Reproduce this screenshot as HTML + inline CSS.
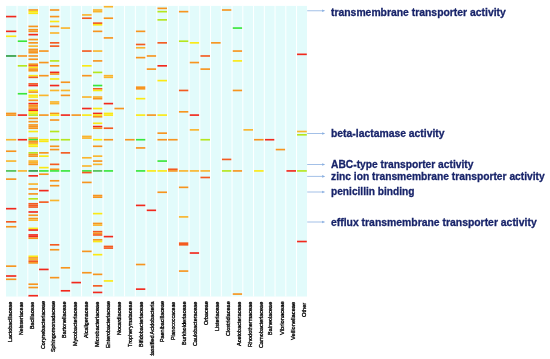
<!DOCTYPE html>
<html><head><meta charset="utf-8"><style>
html,body{margin:0;padding:0;background:#fff;}
body{width:550px;height:359px;position:relative;overflow:hidden;}
svg{position:absolute;left:0;top:0;}
#hm{filter:blur(0.3px);}
.lab{position:absolute;font-family:"Liberation Sans",sans-serif;font-size:5.6px;color:#000;-webkit-text-stroke:0.3px #000;white-space:nowrap;transform-origin:0 0;line-height:1;}
.rt{position:absolute;font-family:"Liberation Sans",sans-serif;font-weight:bold;font-size:12px;color:#18246a;-webkit-text-stroke:0.3px #18246a;white-space:nowrap;transform-origin:0 0;line-height:1;}
</style></head><body>

<svg id="hm" width="550" height="359" viewBox="0 0 550 359">
<rect x="6.00" y="5.900" width="301.00" height="290.634" fill="#e2fbfb"/>
<rect x="6.00" y="15.752" width="10.55" height="1.642" fill="#f2281c"/>
<rect x="6.00" y="30.530" width="10.55" height="1.642" fill="#f2281c"/>
<rect x="6.00" y="35.456" width="10.55" height="1.642" fill="#fbe914"/>
<rect x="6.00" y="55.160" width="10.55" height="1.642" fill="#2e9b3e"/>
<rect x="6.00" y="112.630" width="10.55" height="1.642" fill="#f7941e"/>
<rect x="6.00" y="114.272" width="10.55" height="1.642" fill="#f7941e"/>
<rect x="6.00" y="138.902" width="10.55" height="1.642" fill="#fab42c"/>
<rect x="6.00" y="150.396" width="10.55" height="1.642" fill="#f7941e"/>
<rect x="6.00" y="160.248" width="10.55" height="1.642" fill="#fab42c"/>
<rect x="6.00" y="170.100" width="10.55" height="1.642" fill="#4dbf4d"/>
<rect x="6.00" y="178.310" width="10.55" height="1.642" fill="#f7941e"/>
<rect x="6.00" y="207.866" width="10.55" height="1.642" fill="#f2281c"/>
<rect x="6.00" y="221.002" width="10.55" height="1.642" fill="#f45a20"/>
<rect x="6.00" y="225.928" width="10.55" height="1.642" fill="#f7941e"/>
<rect x="6.00" y="265.336" width="10.55" height="1.642" fill="#f7941e"/>
<rect x="6.00" y="275.188" width="10.55" height="1.642" fill="#f2281c"/>
<rect x="6.00" y="278.472" width="10.55" height="1.642" fill="#f7941e"/>
<rect x="17.45" y="40.382" width="9.85" height="1.642" fill="#39e639"/>
<rect x="17.45" y="55.160" width="9.85" height="1.642" fill="#f7941e"/>
<rect x="17.45" y="65.012" width="9.85" height="1.642" fill="#b5e61d"/>
<rect x="17.45" y="92.926" width="9.85" height="1.642" fill="#39e639"/>
<rect x="17.45" y="114.272" width="9.85" height="1.642" fill="#f2281c"/>
<rect x="17.45" y="138.902" width="9.85" height="1.642" fill="#f2281c"/>
<rect x="17.45" y="170.100" width="9.85" height="1.642" fill="#fab42c"/>
<rect x="28.20" y="9.184" width="9.85" height="1.642" fill="#f7941e"/>
<rect x="28.20" y="10.826" width="9.85" height="1.642" fill="#fbe914"/>
<rect x="28.20" y="12.468" width="9.85" height="1.642" fill="#fbe914"/>
<rect x="28.20" y="25.604" width="9.85" height="1.642" fill="#f7941e"/>
<rect x="28.20" y="28.888" width="9.85" height="1.642" fill="#f7941e"/>
<rect x="28.20" y="30.530" width="9.85" height="1.642" fill="#f7941e"/>
<rect x="28.20" y="33.814" width="9.85" height="1.642" fill="#f2281c"/>
<rect x="28.20" y="38.740" width="9.85" height="1.642" fill="#f7941e"/>
<rect x="28.20" y="42.024" width="9.85" height="1.642" fill="#f7941e"/>
<rect x="28.20" y="45.308" width="9.85" height="1.642" fill="#fab42c"/>
<rect x="28.20" y="48.592" width="9.85" height="1.642" fill="#f7941e"/>
<rect x="28.20" y="50.234" width="9.85" height="1.642" fill="#f7941e"/>
<rect x="28.20" y="51.876" width="9.85" height="1.642" fill="#f7941e"/>
<rect x="28.20" y="55.160" width="9.85" height="1.642" fill="#f7941e"/>
<rect x="28.20" y="58.444" width="9.85" height="1.642" fill="#f7941e"/>
<rect x="28.20" y="63.370" width="9.85" height="1.642" fill="#f7941e"/>
<rect x="28.20" y="65.012" width="9.85" height="1.642" fill="#f45a20"/>
<rect x="28.20" y="66.654" width="9.85" height="1.642" fill="#fbe914"/>
<rect x="28.20" y="68.296" width="9.85" height="1.642" fill="#f7941e"/>
<rect x="28.20" y="69.938" width="9.85" height="1.642" fill="#f7941e"/>
<rect x="28.20" y="74.864" width="9.85" height="1.642" fill="#fbe914"/>
<rect x="28.20" y="76.506" width="9.85" height="1.642" fill="#f45a20"/>
<rect x="28.20" y="83.074" width="9.85" height="1.642" fill="#f45a20"/>
<rect x="28.20" y="84.716" width="9.85" height="1.642" fill="#f2281c"/>
<rect x="28.20" y="89.642" width="9.85" height="1.642" fill="#fbe914"/>
<rect x="28.20" y="91.284" width="9.85" height="1.642" fill="#f7941e"/>
<rect x="28.20" y="94.568" width="9.85" height="1.642" fill="#fbe914"/>
<rect x="28.20" y="96.210" width="9.85" height="1.642" fill="#fbe914"/>
<rect x="28.20" y="99.494" width="9.85" height="1.642" fill="#f7941e"/>
<rect x="28.20" y="102.778" width="9.85" height="1.642" fill="#f2281c"/>
<rect x="28.20" y="104.420" width="9.85" height="1.642" fill="#f7941e"/>
<rect x="28.20" y="106.062" width="9.85" height="1.642" fill="#f7941e"/>
<rect x="28.20" y="107.704" width="9.85" height="1.642" fill="#f7941e"/>
<rect x="28.20" y="109.346" width="9.85" height="1.642" fill="#f2281c"/>
<rect x="28.20" y="110.988" width="9.85" height="1.642" fill="#fbe914"/>
<rect x="28.20" y="112.630" width="9.85" height="1.642" fill="#fbe914"/>
<rect x="28.20" y="114.272" width="9.85" height="1.642" fill="#b5e61d"/>
<rect x="28.20" y="117.556" width="9.85" height="1.642" fill="#f7941e"/>
<rect x="28.20" y="120.840" width="9.85" height="1.642" fill="#f7941e"/>
<rect x="28.20" y="124.124" width="9.85" height="1.642" fill="#f7941e"/>
<rect x="28.20" y="125.766" width="9.85" height="1.642" fill="#f7941e"/>
<rect x="28.20" y="127.408" width="9.85" height="1.642" fill="#f7941e"/>
<rect x="28.20" y="130.692" width="9.85" height="1.642" fill="#fbe914"/>
<rect x="28.20" y="137.260" width="9.85" height="1.642" fill="#fab42c"/>
<rect x="28.20" y="138.902" width="9.85" height="1.642" fill="#39e639"/>
<rect x="28.20" y="140.544" width="9.85" height="1.642" fill="#f7941e"/>
<rect x="28.20" y="142.186" width="9.85" height="1.642" fill="#f7941e"/>
<rect x="28.20" y="143.828" width="9.85" height="1.642" fill="#fbe914"/>
<rect x="28.20" y="145.470" width="9.85" height="1.642" fill="#fbe914"/>
<rect x="28.20" y="152.038" width="9.85" height="1.642" fill="#b5e61d"/>
<rect x="28.20" y="153.680" width="9.85" height="1.642" fill="#f7941e"/>
<rect x="28.20" y="155.322" width="9.85" height="1.642" fill="#f7941e"/>
<rect x="28.20" y="160.248" width="9.85" height="1.642" fill="#fab42c"/>
<rect x="28.20" y="161.890" width="9.85" height="1.642" fill="#fab42c"/>
<rect x="28.20" y="163.532" width="9.85" height="1.642" fill="#f7941e"/>
<rect x="28.20" y="170.100" width="9.85" height="1.642" fill="#2e9b3e"/>
<rect x="28.20" y="175.026" width="9.85" height="1.642" fill="#f2281c"/>
<rect x="28.20" y="183.236" width="9.85" height="1.642" fill="#fab42c"/>
<rect x="28.20" y="188.162" width="9.85" height="1.642" fill="#f7941e"/>
<rect x="28.20" y="193.088" width="9.85" height="1.642" fill="#f7941e"/>
<rect x="28.20" y="198.014" width="9.85" height="1.642" fill="#b5e61d"/>
<rect x="28.20" y="202.940" width="9.85" height="1.642" fill="#f45a20"/>
<rect x="28.20" y="204.582" width="9.85" height="1.642" fill="#f45a20"/>
<rect x="28.20" y="206.224" width="9.85" height="1.642" fill="#f45a20"/>
<rect x="28.20" y="211.150" width="9.85" height="1.642" fill="#f2281c"/>
<rect x="28.20" y="214.434" width="9.85" height="1.642" fill="#f7941e"/>
<rect x="28.20" y="217.718" width="9.85" height="1.642" fill="#f7941e"/>
<rect x="28.20" y="219.360" width="9.85" height="1.642" fill="#fab42c"/>
<rect x="28.20" y="227.570" width="9.85" height="1.642" fill="#fbe914"/>
<rect x="28.20" y="229.212" width="9.85" height="1.642" fill="#f2281c"/>
<rect x="28.20" y="234.138" width="9.85" height="1.642" fill="#f2281c"/>
<rect x="28.20" y="235.780" width="9.85" height="1.642" fill="#f2281c"/>
<rect x="28.20" y="237.422" width="9.85" height="1.642" fill="#f7941e"/>
<rect x="28.20" y="255.484" width="9.85" height="1.642" fill="#fbe914"/>
<rect x="28.20" y="257.126" width="9.85" height="1.642" fill="#f7941e"/>
<rect x="28.20" y="258.768" width="9.85" height="1.642" fill="#fab42c"/>
<rect x="28.20" y="260.410" width="9.85" height="1.642" fill="#f45a20"/>
<rect x="28.20" y="262.052" width="9.85" height="1.642" fill="#f7941e"/>
<rect x="28.20" y="283.398" width="9.85" height="1.642" fill="#f7941e"/>
<rect x="28.20" y="286.682" width="9.85" height="1.642" fill="#f7941e"/>
<rect x="28.20" y="294.892" width="9.85" height="1.642" fill="#f2281c"/>
<rect x="38.95" y="50.234" width="9.85" height="1.642" fill="#f7941e"/>
<rect x="38.95" y="61.728" width="9.85" height="1.642" fill="#f7941e"/>
<rect x="38.95" y="74.864" width="9.85" height="1.642" fill="#f7941e"/>
<rect x="38.95" y="94.568" width="9.85" height="1.642" fill="#fab42c"/>
<rect x="38.95" y="114.272" width="9.85" height="1.642" fill="#f7941e"/>
<rect x="38.95" y="138.902" width="9.85" height="1.642" fill="#fbe914"/>
<rect x="38.95" y="140.544" width="9.85" height="1.642" fill="#fbe914"/>
<rect x="38.95" y="152.038" width="9.85" height="1.642" fill="#f7941e"/>
<rect x="38.95" y="155.322" width="9.85" height="1.642" fill="#fbe914"/>
<rect x="38.95" y="166.816" width="9.85" height="1.642" fill="#fbe914"/>
<rect x="38.95" y="170.100" width="9.85" height="1.642" fill="#39e639"/>
<rect x="38.95" y="173.384" width="9.85" height="1.642" fill="#f7941e"/>
<rect x="38.95" y="189.804" width="9.85" height="1.642" fill="#f2281c"/>
<rect x="38.95" y="201.298" width="9.85" height="1.642" fill="#f45a20"/>
<rect x="38.95" y="268.620" width="9.85" height="1.642" fill="#f2281c"/>
<rect x="49.70" y="9.184" width="9.85" height="1.642" fill="#f7941e"/>
<rect x="49.70" y="15.752" width="9.85" height="1.642" fill="#f7941e"/>
<rect x="49.70" y="20.678" width="9.85" height="1.642" fill="#fbe914"/>
<rect x="49.70" y="25.604" width="9.85" height="1.642" fill="#f7941e"/>
<rect x="49.70" y="32.172" width="9.85" height="1.642" fill="#fab42c"/>
<rect x="49.70" y="42.024" width="9.85" height="1.642" fill="#f45a20"/>
<rect x="49.70" y="45.308" width="9.85" height="1.642" fill="#f45a20"/>
<rect x="49.70" y="60.086" width="9.85" height="1.642" fill="#b5e61d"/>
<rect x="49.70" y="65.012" width="9.85" height="1.642" fill="#f7941e"/>
<rect x="49.70" y="71.580" width="9.85" height="1.642" fill="#f2281c"/>
<rect x="49.70" y="73.222" width="9.85" height="1.642" fill="#f7941e"/>
<rect x="49.70" y="78.148" width="9.85" height="1.642" fill="#fbe914"/>
<rect x="49.70" y="84.716" width="9.85" height="1.642" fill="#f2281c"/>
<rect x="49.70" y="89.642" width="9.85" height="1.642" fill="#fab42c"/>
<rect x="49.70" y="101.136" width="9.85" height="1.642" fill="#fab42c"/>
<rect x="49.70" y="102.778" width="9.85" height="1.642" fill="#fab42c"/>
<rect x="49.70" y="112.630" width="9.85" height="1.642" fill="#f7941e"/>
<rect x="49.70" y="114.272" width="9.85" height="1.642" fill="#fbe914"/>
<rect x="49.70" y="119.198" width="9.85" height="1.642" fill="#f7941e"/>
<rect x="49.70" y="130.692" width="9.85" height="1.642" fill="#b5e61d"/>
<rect x="49.70" y="138.902" width="9.85" height="1.642" fill="#b5e61d"/>
<rect x="49.70" y="145.470" width="9.85" height="1.642" fill="#f7941e"/>
<rect x="49.70" y="148.754" width="9.85" height="1.642" fill="#f7941e"/>
<rect x="49.70" y="163.532" width="9.85" height="1.642" fill="#f45a20"/>
<rect x="49.70" y="168.458" width="9.85" height="1.642" fill="#f7941e"/>
<rect x="49.70" y="170.100" width="9.85" height="1.642" fill="#39e639"/>
<rect x="49.70" y="179.952" width="9.85" height="1.642" fill="#f7941e"/>
<rect x="49.70" y="184.878" width="9.85" height="1.642" fill="#f7941e"/>
<rect x="49.70" y="199.656" width="9.85" height="1.642" fill="#fab42c"/>
<rect x="49.70" y="243.990" width="9.85" height="1.642" fill="#f45a20"/>
<rect x="49.70" y="248.916" width="9.85" height="1.642" fill="#f7941e"/>
<rect x="49.70" y="276.830" width="9.85" height="1.642" fill="#f7941e"/>
<rect x="60.45" y="27.246" width="9.85" height="1.642" fill="#fab42c"/>
<rect x="60.45" y="81.432" width="9.85" height="1.642" fill="#f7941e"/>
<rect x="60.45" y="89.642" width="9.85" height="1.642" fill="#fab42c"/>
<rect x="60.45" y="94.568" width="9.85" height="1.642" fill="#f7941e"/>
<rect x="60.45" y="114.272" width="9.85" height="1.642" fill="#f2281c"/>
<rect x="60.45" y="138.902" width="9.85" height="1.642" fill="#b5e61d"/>
<rect x="60.45" y="152.038" width="9.85" height="1.642" fill="#f45a20"/>
<rect x="60.45" y="170.100" width="9.85" height="1.642" fill="#39e639"/>
<rect x="60.45" y="266.978" width="9.85" height="1.642" fill="#f7941e"/>
<rect x="60.45" y="289.966" width="9.85" height="1.642" fill="#f2281c"/>
<rect x="71.20" y="114.272" width="9.85" height="1.642" fill="#f7941e"/>
<rect x="71.20" y="281.756" width="9.85" height="1.642" fill="#f2281c"/>
<rect x="81.95" y="14.110" width="9.85" height="1.642" fill="#fab42c"/>
<rect x="81.95" y="17.394" width="9.85" height="1.642" fill="#f45a20"/>
<rect x="81.95" y="50.234" width="9.85" height="1.642" fill="#f45a20"/>
<rect x="81.95" y="65.012" width="9.85" height="1.642" fill="#fbe914"/>
<rect x="81.95" y="74.864" width="9.85" height="1.642" fill="#f7941e"/>
<rect x="81.95" y="96.210" width="9.85" height="1.642" fill="#fab42c"/>
<rect x="81.95" y="107.704" width="9.85" height="1.642" fill="#f2281c"/>
<rect x="81.95" y="114.272" width="9.85" height="1.642" fill="#fbe914"/>
<rect x="81.95" y="135.618" width="9.85" height="1.642" fill="#fab42c"/>
<rect x="81.95" y="137.260" width="9.85" height="1.642" fill="#fab42c"/>
<rect x="81.95" y="156.964" width="9.85" height="1.642" fill="#fab42c"/>
<rect x="81.95" y="165.174" width="9.85" height="1.642" fill="#fab42c"/>
<rect x="81.95" y="170.100" width="9.85" height="1.642" fill="#39e639"/>
<rect x="81.95" y="171.742" width="9.85" height="1.642" fill="#f45a20"/>
<rect x="81.95" y="181.594" width="9.85" height="1.642" fill="#f7941e"/>
<rect x="81.95" y="250.558" width="9.85" height="1.642" fill="#f7941e"/>
<rect x="81.95" y="271.904" width="9.85" height="1.642" fill="#f7941e"/>
<rect x="92.70" y="9.184" width="9.85" height="1.642" fill="#fab42c"/>
<rect x="92.70" y="10.826" width="9.85" height="1.642" fill="#fab42c"/>
<rect x="92.70" y="22.320" width="9.85" height="1.642" fill="#f45a20"/>
<rect x="92.70" y="23.962" width="9.85" height="1.642" fill="#fbe914"/>
<rect x="92.70" y="30.530" width="9.85" height="1.642" fill="#f7941e"/>
<rect x="92.70" y="50.234" width="9.85" height="1.642" fill="#fab42c"/>
<rect x="92.70" y="60.086" width="9.85" height="1.642" fill="#f7941e"/>
<rect x="92.70" y="71.580" width="9.85" height="1.642" fill="#b5e61d"/>
<rect x="92.70" y="84.716" width="9.85" height="1.642" fill="#39e639"/>
<rect x="92.70" y="88.000" width="9.85" height="1.642" fill="#f45a20"/>
<rect x="92.70" y="89.642" width="9.85" height="1.642" fill="#fbe914"/>
<rect x="92.70" y="96.210" width="9.85" height="1.642" fill="#fab42c"/>
<rect x="92.70" y="97.852" width="9.85" height="1.642" fill="#f7941e"/>
<rect x="92.70" y="107.704" width="9.85" height="1.642" fill="#fbe914"/>
<rect x="92.70" y="112.630" width="9.85" height="1.642" fill="#f2281c"/>
<rect x="92.70" y="114.272" width="9.85" height="1.642" fill="#fbe914"/>
<rect x="92.70" y="115.914" width="9.85" height="1.642" fill="#f7941e"/>
<rect x="92.70" y="122.482" width="9.85" height="1.642" fill="#fbe914"/>
<rect x="92.70" y="125.766" width="9.85" height="1.642" fill="#f2281c"/>
<rect x="92.70" y="127.408" width="9.85" height="1.642" fill="#f7941e"/>
<rect x="92.70" y="138.902" width="9.85" height="1.642" fill="#fbe914"/>
<rect x="92.70" y="145.470" width="9.85" height="1.642" fill="#f7941e"/>
<rect x="92.70" y="155.322" width="9.85" height="1.642" fill="#fab42c"/>
<rect x="92.70" y="160.248" width="9.85" height="1.642" fill="#f7941e"/>
<rect x="92.70" y="163.532" width="9.85" height="1.642" fill="#fab42c"/>
<rect x="92.70" y="170.100" width="9.85" height="1.642" fill="#4dbf4d"/>
<rect x="92.70" y="194.730" width="9.85" height="1.642" fill="#f7941e"/>
<rect x="92.70" y="196.372" width="9.85" height="1.642" fill="#f7941e"/>
<rect x="92.70" y="212.792" width="9.85" height="1.642" fill="#fbe914"/>
<rect x="92.70" y="222.644" width="9.85" height="1.642" fill="#f7941e"/>
<rect x="92.70" y="224.286" width="9.85" height="1.642" fill="#fab42c"/>
<rect x="92.70" y="230.854" width="9.85" height="1.642" fill="#f45a20"/>
<rect x="92.70" y="232.496" width="9.85" height="1.642" fill="#f7941e"/>
<rect x="92.70" y="234.138" width="9.85" height="1.642" fill="#f45a20"/>
<rect x="92.70" y="239.064" width="9.85" height="1.642" fill="#f7941e"/>
<rect x="92.70" y="240.706" width="9.85" height="1.642" fill="#fbe914"/>
<rect x="92.70" y="253.842" width="9.85" height="1.642" fill="#fbe914"/>
<rect x="92.70" y="273.546" width="9.85" height="1.642" fill="#f7941e"/>
<rect x="92.70" y="285.040" width="9.85" height="1.642" fill="#f45a20"/>
<rect x="92.70" y="291.608" width="9.85" height="1.642" fill="#f2281c"/>
<rect x="103.45" y="5.900" width="9.85" height="1.642" fill="#fab42c"/>
<rect x="103.45" y="17.394" width="9.85" height="1.642" fill="#f7941e"/>
<rect x="103.45" y="37.098" width="9.85" height="1.642" fill="#f7941e"/>
<rect x="103.45" y="74.864" width="9.85" height="1.642" fill="#fab42c"/>
<rect x="103.45" y="76.506" width="9.85" height="1.642" fill="#fab42c"/>
<rect x="103.45" y="102.778" width="9.85" height="1.642" fill="#f2281c"/>
<rect x="103.45" y="112.630" width="9.85" height="1.642" fill="#fbe914"/>
<rect x="103.45" y="114.272" width="9.85" height="1.642" fill="#fbe914"/>
<rect x="103.45" y="127.408" width="9.85" height="1.642" fill="#f45a20"/>
<rect x="103.45" y="138.902" width="9.85" height="1.642" fill="#f7941e"/>
<rect x="103.45" y="170.100" width="9.85" height="1.642" fill="#39e639"/>
<rect x="103.45" y="235.780" width="9.85" height="1.642" fill="#f2281c"/>
<rect x="103.45" y="245.632" width="9.85" height="1.642" fill="#f45a20"/>
<rect x="103.45" y="247.274" width="9.85" height="1.642" fill="#f45a20"/>
<rect x="103.45" y="280.114" width="9.85" height="1.642" fill="#fbe914"/>
<rect x="114.20" y="107.704" width="9.85" height="1.642" fill="#f7941e"/>
<rect x="124.95" y="138.902" width="9.85" height="1.642" fill="#f7941e"/>
<rect x="135.70" y="30.530" width="9.85" height="1.642" fill="#f7941e"/>
<rect x="135.70" y="43.666" width="9.85" height="1.642" fill="#f45a20"/>
<rect x="135.70" y="46.950" width="9.85" height="1.642" fill="#fab42c"/>
<rect x="135.70" y="56.802" width="9.85" height="1.642" fill="#f7941e"/>
<rect x="135.70" y="86.358" width="9.85" height="1.642" fill="#f7941e"/>
<rect x="135.70" y="88.000" width="9.85" height="1.642" fill="#f7941e"/>
<rect x="135.70" y="97.852" width="9.85" height="1.642" fill="#fbe914"/>
<rect x="135.70" y="114.272" width="9.85" height="1.642" fill="#fbe914"/>
<rect x="135.70" y="138.902" width="9.85" height="1.642" fill="#39e639"/>
<rect x="135.70" y="147.112" width="9.85" height="1.642" fill="#f7941e"/>
<rect x="135.70" y="170.100" width="9.85" height="1.642" fill="#39e639"/>
<rect x="135.70" y="204.582" width="9.85" height="1.642" fill="#f2281c"/>
<rect x="135.70" y="263.694" width="9.85" height="1.642" fill="#f7941e"/>
<rect x="135.70" y="288.324" width="9.85" height="1.642" fill="#f2281c"/>
<rect x="146.45" y="55.160" width="9.85" height="1.642" fill="#f7941e"/>
<rect x="146.45" y="68.296" width="9.85" height="1.642" fill="#f7941e"/>
<rect x="146.45" y="114.272" width="9.85" height="1.642" fill="#f7941e"/>
<rect x="146.45" y="170.100" width="9.85" height="1.642" fill="#fbe914"/>
<rect x="146.45" y="209.508" width="9.85" height="1.642" fill="#f2281c"/>
<rect x="157.20" y="7.542" width="9.85" height="1.642" fill="#f7941e"/>
<rect x="157.20" y="10.826" width="9.85" height="1.642" fill="#b5e61d"/>
<rect x="157.20" y="19.036" width="9.85" height="1.642" fill="#b5e61d"/>
<rect x="157.20" y="42.024" width="9.85" height="1.642" fill="#f45a20"/>
<rect x="157.20" y="65.012" width="9.85" height="1.642" fill="#f2281c"/>
<rect x="157.20" y="79.790" width="9.85" height="1.642" fill="#fbe914"/>
<rect x="157.20" y="114.272" width="9.85" height="1.642" fill="#fbe914"/>
<rect x="157.20" y="132.334" width="9.85" height="1.642" fill="#f7941e"/>
<rect x="157.20" y="138.902" width="9.85" height="1.642" fill="#f7941e"/>
<rect x="157.20" y="160.248" width="9.85" height="1.642" fill="#39e639"/>
<rect x="157.20" y="170.100" width="9.85" height="1.642" fill="#fbe914"/>
<rect x="157.20" y="191.446" width="9.85" height="1.642" fill="#f7941e"/>
<rect x="167.95" y="138.902" width="9.85" height="1.642" fill="#f7941e"/>
<rect x="167.95" y="168.458" width="9.85" height="1.642" fill="#f45a20"/>
<rect x="167.95" y="170.100" width="9.85" height="1.642" fill="#f7941e"/>
<rect x="178.70" y="10.826" width="9.85" height="1.642" fill="#f7941e"/>
<rect x="178.70" y="40.382" width="9.85" height="1.642" fill="#b5e61d"/>
<rect x="178.70" y="89.642" width="9.85" height="1.642" fill="#f45a20"/>
<rect x="178.70" y="110.988" width="9.85" height="1.642" fill="#f7941e"/>
<rect x="178.70" y="170.100" width="9.85" height="1.642" fill="#fab42c"/>
<rect x="178.70" y="186.520" width="9.85" height="1.642" fill="#f7941e"/>
<rect x="178.70" y="216.076" width="9.85" height="1.642" fill="#fab42c"/>
<rect x="178.70" y="242.348" width="9.85" height="1.642" fill="#f45a20"/>
<rect x="178.70" y="243.990" width="9.85" height="1.642" fill="#f45a20"/>
<rect x="178.70" y="270.262" width="9.85" height="1.642" fill="#f7941e"/>
<rect x="189.45" y="42.024" width="9.85" height="1.642" fill="#fbe914"/>
<rect x="189.45" y="61.728" width="9.85" height="1.642" fill="#f7941e"/>
<rect x="189.45" y="114.272" width="9.85" height="1.642" fill="#f2281c"/>
<rect x="189.45" y="129.050" width="9.85" height="1.642" fill="#fab42c"/>
<rect x="189.45" y="170.100" width="9.85" height="1.642" fill="#fab42c"/>
<rect x="189.45" y="252.200" width="9.85" height="1.642" fill="#f2281c"/>
<rect x="200.20" y="55.160" width="9.85" height="1.642" fill="#f45a20"/>
<rect x="200.20" y="68.296" width="9.85" height="1.642" fill="#f7941e"/>
<rect x="200.20" y="138.902" width="9.85" height="1.642" fill="#b5e61d"/>
<rect x="200.20" y="170.100" width="9.85" height="1.642" fill="#fab42c"/>
<rect x="200.20" y="176.668" width="9.85" height="1.642" fill="#f45a20"/>
<rect x="210.95" y="42.024" width="9.85" height="1.642" fill="#f7941e"/>
<rect x="221.70" y="9.184" width="9.85" height="1.642" fill="#f7941e"/>
<rect x="221.70" y="158.606" width="9.85" height="1.642" fill="#f45a20"/>
<rect x="221.70" y="170.100" width="9.85" height="1.642" fill="#b5e61d"/>
<rect x="232.45" y="27.246" width="9.85" height="1.642" fill="#39e639"/>
<rect x="232.45" y="50.234" width="9.85" height="1.642" fill="#f7941e"/>
<rect x="232.45" y="60.086" width="9.85" height="1.642" fill="#fbe914"/>
<rect x="232.45" y="89.642" width="9.85" height="1.642" fill="#f7941e"/>
<rect x="232.45" y="170.100" width="9.85" height="1.642" fill="#f7941e"/>
<rect x="232.45" y="293.250" width="9.85" height="1.642" fill="#f7941e"/>
<rect x="243.20" y="129.050" width="9.85" height="1.642" fill="#fab42c"/>
<rect x="253.95" y="138.902" width="9.85" height="1.642" fill="#f7941e"/>
<rect x="253.95" y="170.100" width="9.85" height="1.642" fill="#fbe914"/>
<rect x="264.70" y="138.902" width="9.85" height="1.642" fill="#f2281c"/>
<rect x="275.45" y="148.754" width="9.85" height="1.642" fill="#f7941e"/>
<rect x="286.20" y="170.100" width="9.85" height="1.642" fill="#f2281c"/>
<rect x="296.95" y="53.518" width="9.85" height="1.642" fill="#f2281c"/>
<rect x="296.95" y="130.692" width="9.85" height="1.642" fill="#fab42c"/>
<rect x="296.95" y="133.976" width="9.85" height="1.642" fill="#b5e61d"/>
<rect x="296.95" y="170.100" width="9.85" height="1.642" fill="#b5e61d"/>
<rect x="296.95" y="240.706" width="9.85" height="1.642" fill="#f2281c"/>
<rect x="16.55" y="5.900" width="1.00" height="290.634" fill="#ffffff"/>
<rect x="27.30" y="5.900" width="1.00" height="290.634" fill="#ffffff"/>
<rect x="38.05" y="5.900" width="1.00" height="290.634" fill="#ffffff"/>
<rect x="48.80" y="5.900" width="1.00" height="290.634" fill="#ffffff"/>
<rect x="59.55" y="5.900" width="1.00" height="290.634" fill="#ffffff"/>
<rect x="70.30" y="5.900" width="1.00" height="290.634" fill="#ffffff"/>
<rect x="81.05" y="5.900" width="1.00" height="290.634" fill="#ffffff"/>
<rect x="91.80" y="5.900" width="1.00" height="290.634" fill="#ffffff"/>
<rect x="102.55" y="5.900" width="1.00" height="290.634" fill="#ffffff"/>
<rect x="113.30" y="5.900" width="1.00" height="290.634" fill="#ffffff"/>
<rect x="124.05" y="5.900" width="1.00" height="290.634" fill="#ffffff"/>
<rect x="134.80" y="5.900" width="1.00" height="290.634" fill="#ffffff"/>
<rect x="145.55" y="5.900" width="1.00" height="290.634" fill="#ffffff"/>
<rect x="156.30" y="5.900" width="1.00" height="290.634" fill="#ffffff"/>
<rect x="167.05" y="5.900" width="1.00" height="290.634" fill="#ffffff"/>
<rect x="177.80" y="5.900" width="1.00" height="290.634" fill="#ffffff"/>
<rect x="188.55" y="5.900" width="1.00" height="290.634" fill="#ffffff"/>
<rect x="199.30" y="5.900" width="1.00" height="290.634" fill="#ffffff"/>
<rect x="210.05" y="5.900" width="1.00" height="290.634" fill="#ffffff"/>
<rect x="220.80" y="5.900" width="1.00" height="290.634" fill="#ffffff"/>
<rect x="231.55" y="5.900" width="1.00" height="290.634" fill="#ffffff"/>
<rect x="242.30" y="5.900" width="1.00" height="290.634" fill="#ffffff"/>
<rect x="253.05" y="5.900" width="1.00" height="290.634" fill="#ffffff"/>
<rect x="263.80" y="5.900" width="1.00" height="290.634" fill="#ffffff"/>
<rect x="274.55" y="5.900" width="1.00" height="290.634" fill="#ffffff"/>
<rect x="285.30" y="5.900" width="1.00" height="290.634" fill="#ffffff"/>
<rect x="296.05" y="5.900" width="1.00" height="290.634" fill="#ffffff"/>
</svg>
<div style="position:absolute;left:0;top:0;width:550px;height:355.5px;overflow:hidden">
<div class="lab" style="left:7.89px;top:341.60px;font-size:5.45px;transform:rotate(-90deg) scaleX(0.9950)">Lactobacillaceae</div>
<div class="lab" style="left:18.79px;top:334.50px;font-size:5.45px;transform:rotate(-90deg) scaleX(0.9640)">Neisseriaceae</div>
<div class="lab" style="left:29.69px;top:328.50px;font-size:5.45px;transform:rotate(-90deg) scaleX(0.9791)">Bacillaceae</div>
<div class="lab" style="left:40.59px;top:349.30px;font-size:5.45px;transform:rotate(-90deg) scaleX(0.9861)">Corynebacteriaceae</div>
<div class="lab" style="left:51.49px;top:352.30px;font-size:5.45px;transform:rotate(-90deg) scaleX(0.9919)">Sphingomonadaceae</div>
<div class="lab" style="left:62.39px;top:337.70px;font-size:5.45px;transform:rotate(-90deg) scaleX(1.0038)">Bartonellaceae</div>
<div class="lab" style="left:73.29px;top:345.70px;font-size:5.45px;transform:rotate(-90deg) scaleX(1.0061)">Mycobacteriaceae</div>
<div class="lab" style="left:84.19px;top:337.70px;font-size:5.45px;transform:rotate(-90deg) scaleX(0.9874)">Alcaligenaceae</div>
<div class="lab" style="left:95.09px;top:346.60px;font-size:5.45px;transform:rotate(-90deg) scaleX(1.0194)">Microbacteriaceae</div>
<div class="lab" style="left:105.99px;top:348.40px;font-size:5.45px;transform:rotate(-90deg) scaleX(0.9986)">Enterobacteriaceae</div>
<div class="lab" style="left:116.89px;top:334.50px;font-size:5.45px;transform:rotate(-90deg) scaleX(0.9900)">Nocardiaceae</div>
<div class="lab" style="left:127.79px;top:347.00px;font-size:5.45px;transform:rotate(-90deg) scaleX(1.0057)">Tropherymataceae</div>
<div class="lab" style="left:138.69px;top:346.60px;font-size:5.45px;transform:rotate(-90deg) scaleX(1.0124)">Bifidobacteriaceae</div>
<div class="lab" style="left:149.59px;top:363.90px;font-size:5.45px;transform:rotate(-90deg) scaleX(0.9997)">unclassified Acidobacteria</div>
<div class="lab" style="left:160.49px;top:342.20px;font-size:5.45px;transform:rotate(-90deg) scaleX(0.9948)">Paenibacillaceae</div>
<div class="lab" style="left:171.39px;top:339.50px;font-size:5.45px;transform:rotate(-90deg) scaleX(0.9576)">Planococcaceae</div>
<div class="lab" style="left:182.29px;top:344.80px;font-size:5.45px;transform:rotate(-90deg) scaleX(1.0279)">Burkholderiaceae</div>
<div class="lab" style="left:193.19px;top:345.70px;font-size:5.45px;transform:rotate(-90deg) scaleX(1.0059)">Caulobacteraceae</div>
<div class="lab" style="left:204.09px;top:324.90px;font-size:5.45px;transform:rotate(-90deg) scaleX(0.9901)">Orbaceae</div>
<div class="lab" style="left:214.99px;top:330.60px;font-size:5.45px;transform:rotate(-90deg) scaleX(1.0005)">Listeriaceae</div>
<div class="lab" style="left:225.89px;top:336.00px;font-size:5.45px;transform:rotate(-90deg) scaleX(1.0075)">Clostridiaceae</div>
<div class="lab" style="left:236.79px;top:345.70px;font-size:5.45px;transform:rotate(-90deg) scaleX(1.0128)">Acetobacteraceae</div>
<div class="lab" style="left:247.69px;top:346.60px;font-size:5.45px;transform:rotate(-90deg) scaleX(1.0124)">Rhodothermaceae</div>
<div class="lab" style="left:258.59px;top:347.50px;font-size:5.45px;transform:rotate(-90deg) scaleX(1.0054)">Carnobacteriaceae</div>
<div class="lab" style="left:267.99px;top:334.50px;font-size:5.45px;transform:rotate(-90deg) scaleX(1.0081)">Balneolaceae</div>
<div class="lab" style="left:280.39px;top:335.00px;font-size:5.45px;transform:rotate(-90deg) scaleX(1.0656)">Vibrionaceae</div>
<div class="lab" style="left:291.29px;top:339.50px;font-size:5.45px;transform:rotate(-90deg) scaleX(1.0533)">Veillonellaceae</div>
<div class="lab" style="left:302.19px;top:316.70px;font-size:5.45px;transform:rotate(-90deg) scaleX(1.0487)">Other</div>
</div>
<div class="rt" style="left:330.6px;top:6.82px;font-size:11.20px;transform:scaleX(0.9278)">transmembrane transporter activity</div>
<div class="rt" style="left:330.6px;top:127.62px;font-size:11.20px;transform:scaleX(0.9270)">beta-lactamase activity</div>
<div class="rt" style="left:330.6px;top:159.12px;font-size:11.20px;transform:scaleX(0.9165)">ABC-type transporter activity</div>
<div class="rt" style="left:330.6px;top:170.92px;font-size:11.20px;transform:scaleX(0.9168)">zinc ion transmembrane transporter activity</div>
<div class="rt" style="left:330.6px;top:186.42px;font-size:11.20px;transform:scaleX(0.9079)">penicillin binding</div>
<div class="rt" style="left:330.6px;top:216.92px;font-size:11.20px;transform:scaleX(0.9292)">efflux transmembrane transporter activity</div>
<svg width="550" height="359" viewBox="0 0 550 359">
<line x1="307.2" y1="10.75" x2="323" y2="10.75" stroke="#98b9e4" stroke-width="0.9"/>
<path d="M322.2 9.45 L325.2 10.75 L322.2 12.05 Z" fill="#88aee0"/>
<line x1="307.2" y1="133.50" x2="323" y2="133.50" stroke="#98b9e4" stroke-width="0.9"/>
<path d="M322.2 132.20 L325.2 133.50 L322.2 134.80 Z" fill="#88aee0"/>
<line x1="307.2" y1="164.50" x2="323" y2="164.50" stroke="#98b9e4" stroke-width="0.9"/>
<path d="M322.2 163.20 L325.2 164.50 L322.2 165.80 Z" fill="#88aee0"/>
<line x1="307.2" y1="176.40" x2="323" y2="176.40" stroke="#98b9e4" stroke-width="0.9"/>
<path d="M322.2 175.10 L325.2 176.40 L322.2 177.70 Z" fill="#88aee0"/>
<line x1="307.2" y1="192.00" x2="323" y2="192.00" stroke="#98b9e4" stroke-width="0.9"/>
<path d="M322.2 190.70 L325.2 192.00 L322.2 193.30 Z" fill="#88aee0"/>
<line x1="307.2" y1="222.00" x2="323" y2="222.00" stroke="#98b9e4" stroke-width="0.9"/>
<path d="M322.2 220.70 L325.2 222.00 L322.2 223.30 Z" fill="#88aee0"/>
</svg>
</body></html>
